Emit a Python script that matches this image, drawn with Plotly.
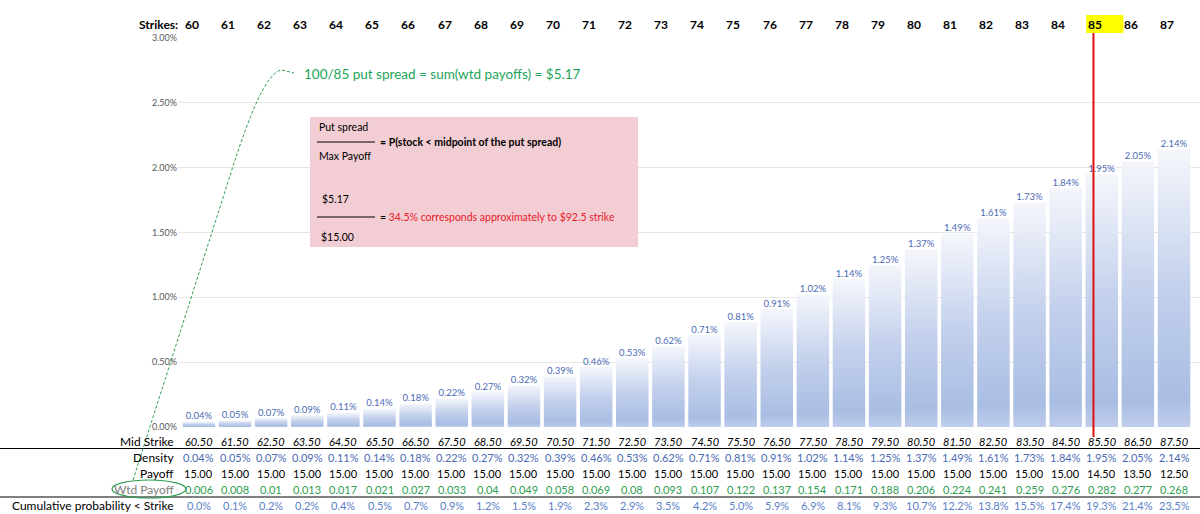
import plotly.graph_objects as go

# ---------------- data ----------------
strikes = [60, 61, 62, 63, 64, 65, 66, 67, 68, 69, 70, 71, 72, 73, 74, 75, 76, 77, 78, 79,
           80, 81, 82, 83, 84, 85, 86, 87, 88]
mid_strike = [60.5, 61.5, 62.5, 63.5, 64.5, 65.5, 66.5, 67.5, 68.5, 69.5, 70.5, 71.5, 72.5, 73.5,
              74.5, 75.5, 76.5, 77.5, 78.5, 79.5, 80.5, 81.5, 82.5, 83.5, 84.5, 85.5, 86.5, 87.5]
density = [0.04, 0.05, 0.07, 0.09, 0.11, 0.14, 0.18, 0.22, 0.27, 0.32, 0.39, 0.46, 0.53, 0.62,
           0.71, 0.81, 0.91, 1.02, 1.14, 1.25, 1.37, 1.49, 1.61, 1.73, 1.84, 1.95, 2.05, 2.14]
payoff = [15.00, 15.00, 15.00, 15.00, 15.00, 15.00, 15.00, 15.00, 15.00, 15.00, 15.00, 15.00,
          15.00, 15.00, 15.00, 15.00, 15.00, 15.00, 15.00, 15.00, 15.00, 15.00, 15.00, 15.00,
          15.00, 14.50, 13.50, 12.50]
wtd_payoff = [0.006, 0.008, 0.01, 0.013, 0.017, 0.021, 0.027, 0.033, 0.04, 0.049, 0.058, 0.069,
              0.08, 0.093, 0.107, 0.122, 0.137, 0.154, 0.171, 0.188, 0.206, 0.224, 0.241, 0.259,
              0.276, 0.282, 0.277, 0.268]
cum_prob = [0.0, 0.1, 0.2, 0.2, 0.4, 0.5, 0.7, 0.9, 1.2, 1.5, 1.9, 2.3, 2.9, 3.5, 4.2, 5.0, 5.9,
            6.9, 8.1, 9.3, 10.7, 12.2, 13.8, 15.5, 17.4, 19.3, 21.4, 23.5]
y_ticks = [0.0, 0.5, 1.0, 1.5, 2.0, 2.5, 3.0]
highlight_strike = 85

# ---------------- layout geometry ----------------
W, H = 1200, 514
ML, MR, MT, MB = 178, 0, 38, 87
PW, PH = W - ML - MR, H - MT - MB
XR = [59.92, 88.22]
FONT = "Lato"

BLUE_TXT = "#4a6ab5"
GREEN = "#2e9e50"
BAR_W = 0.9


def px(x):
    return (x - ML) / PW


def py(y):
    return (H - MB - y) / PH


fig = go.Figure()

# bars with vertical gradient
colorscale = [[0.0, "#bfcdeb"], [0.1, "#a9bde3"], [0.5, "#c3d0ec"], [1.0, "#f4f6fb"]]
for c, v in zip(mid_strike, density):
    fig.add_trace(go.Scatter(
        x=[c - BAR_W / 2, c + BAR_W / 2, c + BAR_W / 2, c - BAR_W / 2, c - BAR_W / 2],
        y=[0, 0, v, v, 0],
        mode="lines", line=dict(width=0), fill="toself",
        fillgradient=dict(type="vertical", colorscale=colorscale, start=0, stop=v),
        hoverinfo="skip", showlegend=False,
    ))

# bar value labels
fig.add_trace(go.Scatter(
    x=mid_strike, y=density, mode="text",
    text=[f"{v:.2f}%" for v in density], textposition="top center",
    textfont=dict(family=FONT, size=9.5, color=BLUE_TXT),
    cliponaxis=False, showlegend=False, hoverinfo="skip",
))

annotations = []
shapes = []

# top strikes row
annotations.append(dict(xref="paper", yref="paper", x=px(180), y=py(24), text="<b>Strikes:</b>",
                        showarrow=False, xanchor="right", yanchor="middle",
                        font=dict(family=FONT, size=12, color="black")))
for s in strikes:
    annotations.append(dict(xref="x", yref="paper", x=s + 0.3, y=py(24), text=f"<b>{s}</b>",
                            showarrow=False, xanchor="center", yanchor="middle",
                            font=dict(family=FONT, size=12, color="black")))
shapes.append(dict(type="rect", xref="x", yref="paper", x0=highlight_strike + 0.07,
                   x1=highlight_strike + 1.1, y0=py(33), y1=py(15),
                   fillcolor="#ffff00", line=dict(width=0), layer="below"))
shapes.append(dict(type="line", xref="x", yref="paper", x0=highlight_strike + 0.27,
                   x1=highlight_strike + 0.27, y0=py(33), y1=py(437),
                   line=dict(color="#e01010", width=2), layer="above"))

# table rows
rows = [
    ("Mid Strike", 441.5, [f"<i>{v:.2f}</i>" for v in mid_strike], "black", "black"),
    ("Density", 457, [f"{v:.2f}%" for v in density], BLUE_TXT, "black"),
    ("Payoff", 473, [f"{v:.2f}" for v in payoff], "black", "black"),
    ("Wtd Payoff", 489, [f"{v:g}" for v in wtd_payoff], GREEN, "#7f7f7f"),
    ("Cumulative probability < Strike", 505, [f"{v:.1f}%" for v in cum_prob], "#5b7fc7", "black"),
]
for label, ypix, texts, col, lcol in rows:
    annotations.append(dict(xref="paper", yref="paper", x=px(176), y=py(ypix), text=label,
                            showarrow=False, xanchor="right", yanchor="middle",
                            font=dict(family=FONT, size=12, color=lcol)))
    for c, t in zip(mid_strike, texts):
        annotations.append(dict(xref="x", yref="paper", x=c, y=py(ypix), text=t,
                                showarrow=False, xanchor="center", yanchor="middle",
                                font=dict(family=FONT, size=11, color=col)))

for ypix in (448.5, 497):
    shapes.append(dict(type="line", xref="paper", yref="paper", x0=px(0), x1=px(W),
                       y0=py(ypix), y1=py(ypix), line=dict(color="black", width=1)))

# ellipse round "Wtd Payoff"
shapes.append(dict(type="circle", xref="paper", yref="paper", x0=px(112), x1=px(186),
                   y0=py(498), y1=py(480), line=dict(color=GREEN, width=1.2)))

# dashed curve
pts = [("M", [(133, 480)]), ("L", [(235, 160)]), ("C", [(248, 121), (266, 71), (282, 70)]),
       ("L", [(294, 73)])]
path = " ".join(cmd + " " + " ".join(f"{px(a):.5f},{py(b):.5f}" for a, b in p) for cmd, p in pts)
shapes.append(dict(type="path", xref="paper", yref="paper", path=path,
                   line=dict(color=GREEN, width=1, dash="3px,2px")))

annotations.append(dict(xref="paper", yref="paper", x=px(302), y=py(74),
                        text="100/85 put spread = sum(wtd payoffs) = $5.17",
                        showarrow=False, xanchor="left", yanchor="middle",
                        font=dict(family=FONT, size=13.5, color="#22a55a")))

# pink box
shapes.append(dict(type="rect", xref="paper", yref="paper", x0=px(310), x1=px(638),
                   y0=py(247), y1=py(117), fillcolor="#f2cdd3", line=dict(width=0)))
for ypix in (142, 217):
    shapes.append(dict(type="line", xref="paper", yref="paper", x0=px(317), x1=px(375),
                       y0=py(ypix), y1=py(ypix), line=dict(color="black", width=1)))
box_texts = [
    (317, 127, "Put spread", "black"),
    (317, 156, "Max Payoff", "black"),
    (378, 142, "<b>= P(stock < midpoint of the put spread)</b>", "black"),
    (320, 199, "$5.17", "black"),
    (319, 237, "$15.00", "black"),
    (378, 217, "= <span style='color:#e8202a'>34.5% corresponds approximately to $92.5 strike</span>", "black"),
]
for xp, yp, t, col in box_texts:
    annotations.append(dict(xref="paper", yref="paper", x=px(xp), y=py(yp), text=t,
                            showarrow=False, xanchor="left", yanchor="middle",
                            font=dict(family=FONT, size=10.5, color=col)))

fig.update_layout(
    width=W, height=H, autosize=False,
    margin=dict(l=ML, r=MR, t=MT, b=MB, pad=0),
    paper_bgcolor="white", plot_bgcolor="white",
    showlegend=False,
    font=dict(family=FONT),
    xaxis=dict(range=XR, showgrid=False, zeroline=False, showticklabels=False,
               showline=False, fixedrange=True),
    yaxis=dict(range=[0, 3.0], tickvals=y_ticks, ticktext=[f"{v:.2f}%" for v in y_ticks],
               showgrid=True, gridcolor="#e6e6e6", gridwidth=1, zeroline=False,
               showline=False, ticks="", tickfont=dict(family=FONT, size=9, color="#595959"),
               fixedrange=True),
    annotations=annotations,
    shapes=shapes,
)

fig.write_html("out.html")
